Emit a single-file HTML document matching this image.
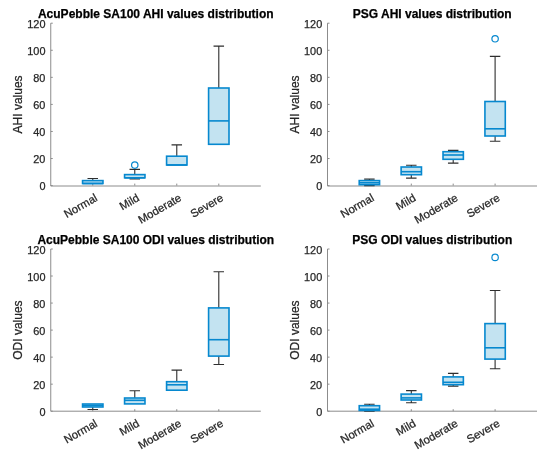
<!DOCTYPE html>
<html><head><meta charset="utf-8"><style>
html,body{margin:0;padding:0;background:#fff;}
svg{display:block;will-change:transform;}
text{font-family:"Liberation Sans",sans-serif;fill:#262626;stroke:#262626;stroke-width:0.25px;}
.tk{font-size:10.9px;}
.ct{font-size:11.3px;}
.yl{font-size:12px;}
.tt{font-size:12px;font-weight:bold;fill:#000;stroke:#000;}
</style></head><body>
<svg width="550" height="454" viewBox="0 0 550 454">
<rect width="550" height="454" fill="#fff"/>
<path d="M50.75 23.2V186H260.8" fill="none" stroke="#8c8c8c" stroke-width="1"/>
<path d="M50.75 185.6h2" stroke="#8c8c8c" stroke-width="1"/>
<text x="45.45" y="186.1" class="tk" text-anchor="end" dominant-baseline="central">0</text>
<path d="M50.75 158.53h2" stroke="#8c8c8c" stroke-width="1"/>
<text x="45.45" y="159.03" class="tk" text-anchor="end" dominant-baseline="central">20</text>
<path d="M50.75 131.47h2" stroke="#8c8c8c" stroke-width="1"/>
<text x="45.45" y="131.97" class="tk" text-anchor="end" dominant-baseline="central">40</text>
<path d="M50.75 104.4h2" stroke="#8c8c8c" stroke-width="1"/>
<text x="45.45" y="104.9" class="tk" text-anchor="end" dominant-baseline="central">60</text>
<path d="M50.75 77.33h2" stroke="#8c8c8c" stroke-width="1"/>
<text x="45.45" y="77.83" class="tk" text-anchor="end" dominant-baseline="central">80</text>
<path d="M50.75 50.27h2" stroke="#8c8c8c" stroke-width="1"/>
<text x="45.45" y="50.77" class="tk" text-anchor="end" dominant-baseline="central">100</text>
<path d="M50.75 23.2h2" stroke="#8c8c8c" stroke-width="1"/>
<text x="45.45" y="23.7" class="tk" text-anchor="end" dominant-baseline="central">120</text>
<path d="M92.76 185.6v-2" stroke="#8c8c8c" stroke-width="1"/>
<text x="96.26" y="196.6" class="ct" text-anchor="end" dominant-baseline="central" transform="rotate(-30 96.26 196.6)">Normal</text>
<path d="M134.77 185.6v-2" stroke="#8c8c8c" stroke-width="1"/>
<text x="138.27" y="196.6" class="ct" text-anchor="end" dominant-baseline="central" transform="rotate(-30 138.27 196.6)">Mild</text>
<path d="M176.78 185.6v-2" stroke="#8c8c8c" stroke-width="1"/>
<text x="180.28" y="196.6" class="ct" text-anchor="end" dominant-baseline="central" transform="rotate(-30 180.28 196.6)">Moderate</text>
<path d="M218.79 185.6v-2" stroke="#8c8c8c" stroke-width="1"/>
<text x="222.29" y="196.6" class="ct" text-anchor="end" dominant-baseline="central" transform="rotate(-30 222.29 196.6)">Severe</text>
<path d="M92.76 180.6V178.5M87.51 178.5H98.01" fill="none" stroke="#2e2e2e" stroke-width="1.1"/>
<rect x="82.56" y="180.6" width="20.41" height="2.9" fill="#c3e3f1" stroke="#0688cf" stroke-width="1.6"/>
<path d="M82.56 183.5H102.96" stroke="#0688cf" stroke-width="1.6"/>
<path d="M134.77 174.6V169.4M129.52 169.4H140.02M134.77 177.8V178.9M129.52 178.9H140.02" fill="none" stroke="#2e2e2e" stroke-width="1.1"/>
<rect x="124.57" y="174.6" width="20.41" height="3.2" fill="#c3e3f1" stroke="#0688cf" stroke-width="1.6"/>
<path d="M124.57 177.8H144.97" stroke="#0688cf" stroke-width="1.6"/>
<circle cx="134.77" cy="165.1" r="3.2" fill="none" stroke="#0688cf" stroke-width="1.2"/>
<path d="M176.78 156.2V144.9M171.53 144.9H182.03" fill="none" stroke="#2e2e2e" stroke-width="1.1"/>
<rect x="166.58" y="156.2" width="20.41" height="8.8" fill="#c3e3f1" stroke="#0688cf" stroke-width="1.6"/>
<path d="M166.58 165H186.98" stroke="#0688cf" stroke-width="1.6"/>
<path d="M218.79 88V46.1M213.54 46.1H224.04" fill="none" stroke="#2e2e2e" stroke-width="1.1"/>
<rect x="208.59" y="88" width="20.41" height="56.3" fill="#c3e3f1" stroke="#0688cf" stroke-width="1.6"/>
<path d="M208.59 120.9H228.99" stroke="#0688cf" stroke-width="1.6"/>
<text x="155.78" y="18.4" class="tt" text-anchor="middle">AcuPebble SA100 AHI values distribution</text>
<text x="21.95" y="104.4" class="yl" text-anchor="middle" transform="rotate(-90 21.95 104.4)">AHI values</text>
<path d="M327.5 23.2V186H537" fill="none" stroke="#8c8c8c" stroke-width="1"/>
<path d="M327.5 185.6h2" stroke="#8c8c8c" stroke-width="1"/>
<text x="322.2" y="186.1" class="tk" text-anchor="end" dominant-baseline="central">0</text>
<path d="M327.5 158.53h2" stroke="#8c8c8c" stroke-width="1"/>
<text x="322.2" y="159.03" class="tk" text-anchor="end" dominant-baseline="central">20</text>
<path d="M327.5 131.47h2" stroke="#8c8c8c" stroke-width="1"/>
<text x="322.2" y="131.97" class="tk" text-anchor="end" dominant-baseline="central">40</text>
<path d="M327.5 104.4h2" stroke="#8c8c8c" stroke-width="1"/>
<text x="322.2" y="104.9" class="tk" text-anchor="end" dominant-baseline="central">60</text>
<path d="M327.5 77.33h2" stroke="#8c8c8c" stroke-width="1"/>
<text x="322.2" y="77.83" class="tk" text-anchor="end" dominant-baseline="central">80</text>
<path d="M327.5 50.27h2" stroke="#8c8c8c" stroke-width="1"/>
<text x="322.2" y="50.77" class="tk" text-anchor="end" dominant-baseline="central">100</text>
<path d="M327.5 23.2h2" stroke="#8c8c8c" stroke-width="1"/>
<text x="322.2" y="23.7" class="tk" text-anchor="end" dominant-baseline="central">120</text>
<path d="M369.4 185.6v-2" stroke="#8c8c8c" stroke-width="1"/>
<text x="372.9" y="196.6" class="ct" text-anchor="end" dominant-baseline="central" transform="rotate(-30 372.9 196.6)">Normal</text>
<path d="M411.3 185.6v-2" stroke="#8c8c8c" stroke-width="1"/>
<text x="414.8" y="196.6" class="ct" text-anchor="end" dominant-baseline="central" transform="rotate(-30 414.8 196.6)">Mild</text>
<path d="M453.2 185.6v-2" stroke="#8c8c8c" stroke-width="1"/>
<text x="456.7" y="196.6" class="ct" text-anchor="end" dominant-baseline="central" transform="rotate(-30 456.7 196.6)">Moderate</text>
<path d="M495.1 185.6v-2" stroke="#8c8c8c" stroke-width="1"/>
<text x="498.6" y="196.6" class="ct" text-anchor="end" dominant-baseline="central" transform="rotate(-30 498.6 196.6)">Severe</text>
<path d="M369.4 180.6V179.1M364.16 179.1H374.64M369.4 184.7V185.6M364.16 185.6H374.64" fill="none" stroke="#2e2e2e" stroke-width="1.1"/>
<rect x="359.22" y="180.6" width="20.35" height="4.1" fill="#c3e3f1" stroke="#0688cf" stroke-width="1.6"/>
<path d="M359.22 182.8H379.57" stroke="#0688cf" stroke-width="1.6"/>
<path d="M411.3 167V165.3M406.06 165.3H416.54M411.3 174.7V178.1M406.06 178.1H416.54" fill="none" stroke="#2e2e2e" stroke-width="1.1"/>
<rect x="401.12" y="167" width="20.35" height="7.7" fill="#c3e3f1" stroke="#0688cf" stroke-width="1.6"/>
<path d="M401.12 171.7H421.48" stroke="#0688cf" stroke-width="1.6"/>
<path d="M453.2 151.7V150.4M447.96 150.4H458.44M453.2 159.3V163.1M447.96 163.1H458.44" fill="none" stroke="#2e2e2e" stroke-width="1.1"/>
<rect x="443.02" y="151.7" width="20.35" height="7.6" fill="#c3e3f1" stroke="#0688cf" stroke-width="1.6"/>
<path d="M443.02 155H463.38" stroke="#0688cf" stroke-width="1.6"/>
<path d="M495.1 101.5V56.4M489.86 56.4H500.34M495.1 136V141.3M489.86 141.3H500.34" fill="none" stroke="#2e2e2e" stroke-width="1.1"/>
<rect x="484.93" y="101.5" width="20.35" height="34.5" fill="#c3e3f1" stroke="#0688cf" stroke-width="1.6"/>
<path d="M484.93 128.8H505.28" stroke="#0688cf" stroke-width="1.6"/>
<circle cx="495.1" cy="38.8" r="3.2" fill="none" stroke="#0688cf" stroke-width="1.2"/>
<text x="432.25" y="18.4" class="tt" text-anchor="middle">PSG AHI values distribution</text>
<text x="298.7" y="104.4" class="yl" text-anchor="middle" transform="rotate(-90 298.7 104.4)">AHI values</text>
<path d="M50.75 249V411.2H260.8" fill="none" stroke="#8c8c8c" stroke-width="1"/>
<path d="M50.75 411.2h2" stroke="#8c8c8c" stroke-width="1"/>
<text x="45.45" y="411.7" class="tk" text-anchor="end" dominant-baseline="central">0</text>
<path d="M50.75 384.17h2" stroke="#8c8c8c" stroke-width="1"/>
<text x="45.45" y="384.67" class="tk" text-anchor="end" dominant-baseline="central">20</text>
<path d="M50.75 357.13h2" stroke="#8c8c8c" stroke-width="1"/>
<text x="45.45" y="357.63" class="tk" text-anchor="end" dominant-baseline="central">40</text>
<path d="M50.75 330.1h2" stroke="#8c8c8c" stroke-width="1"/>
<text x="45.45" y="330.6" class="tk" text-anchor="end" dominant-baseline="central">60</text>
<path d="M50.75 303.07h2" stroke="#8c8c8c" stroke-width="1"/>
<text x="45.45" y="303.57" class="tk" text-anchor="end" dominant-baseline="central">80</text>
<path d="M50.75 276.03h2" stroke="#8c8c8c" stroke-width="1"/>
<text x="45.45" y="276.53" class="tk" text-anchor="end" dominant-baseline="central">100</text>
<path d="M50.75 249h2" stroke="#8c8c8c" stroke-width="1"/>
<text x="45.45" y="249.5" class="tk" text-anchor="end" dominant-baseline="central">120</text>
<path d="M92.76 411.2v-2" stroke="#8c8c8c" stroke-width="1"/>
<text x="96.26" y="422.2" class="ct" text-anchor="end" dominant-baseline="central" transform="rotate(-30 96.26 422.2)">Normal</text>
<path d="M134.77 411.2v-2" stroke="#8c8c8c" stroke-width="1"/>
<text x="138.27" y="422.2" class="ct" text-anchor="end" dominant-baseline="central" transform="rotate(-30 138.27 422.2)">Mild</text>
<path d="M176.78 411.2v-2" stroke="#8c8c8c" stroke-width="1"/>
<text x="180.28" y="422.2" class="ct" text-anchor="end" dominant-baseline="central" transform="rotate(-30 180.28 422.2)">Moderate</text>
<path d="M218.79 411.2v-2" stroke="#8c8c8c" stroke-width="1"/>
<text x="222.29" y="422.2" class="ct" text-anchor="end" dominant-baseline="central" transform="rotate(-30 222.29 422.2)">Severe</text>
<path d="M92.76 407V409.5M87.51 409.5H98.01" fill="none" stroke="#2e2e2e" stroke-width="1.1"/>
<rect x="82.56" y="404" width="20.41" height="3" fill="#c3e3f1" stroke="#0688cf" stroke-width="1.6"/>
<path d="M82.56 405.5H102.96" stroke="#0688cf" stroke-width="1.6"/>
<path d="M134.77 398V390.7M129.52 390.7H140.02" fill="none" stroke="#2e2e2e" stroke-width="1.1"/>
<rect x="124.57" y="398" width="20.41" height="5.9" fill="#c3e3f1" stroke="#0688cf" stroke-width="1.6"/>
<path d="M124.57 400.3H144.97" stroke="#0688cf" stroke-width="1.6"/>
<path d="M176.78 381.7V370.1M171.53 370.1H182.03" fill="none" stroke="#2e2e2e" stroke-width="1.1"/>
<rect x="166.58" y="381.7" width="20.41" height="8.5" fill="#c3e3f1" stroke="#0688cf" stroke-width="1.6"/>
<path d="M166.58 384.8H186.98" stroke="#0688cf" stroke-width="1.6"/>
<path d="M218.79 307.9V271.7M213.54 271.7H224.04M218.79 356.1V364.5M213.54 364.5H224.04" fill="none" stroke="#2e2e2e" stroke-width="1.1"/>
<rect x="208.59" y="307.9" width="20.41" height="48.2" fill="#c3e3f1" stroke="#0688cf" stroke-width="1.6"/>
<path d="M208.59 339.7H228.99" stroke="#0688cf" stroke-width="1.6"/>
<text x="155.78" y="244.2" class="tt" text-anchor="middle">AcuPebble SA100 ODI values distribution</text>
<text x="21.95" y="330.1" class="yl" text-anchor="middle" transform="rotate(-90 21.95 330.1)">ODI values</text>
<path d="M327.5 249V411.2H537" fill="none" stroke="#8c8c8c" stroke-width="1"/>
<path d="M327.5 411.2h2" stroke="#8c8c8c" stroke-width="1"/>
<text x="322.2" y="411.7" class="tk" text-anchor="end" dominant-baseline="central">0</text>
<path d="M327.5 384.17h2" stroke="#8c8c8c" stroke-width="1"/>
<text x="322.2" y="384.67" class="tk" text-anchor="end" dominant-baseline="central">20</text>
<path d="M327.5 357.13h2" stroke="#8c8c8c" stroke-width="1"/>
<text x="322.2" y="357.63" class="tk" text-anchor="end" dominant-baseline="central">40</text>
<path d="M327.5 330.1h2" stroke="#8c8c8c" stroke-width="1"/>
<text x="322.2" y="330.6" class="tk" text-anchor="end" dominant-baseline="central">60</text>
<path d="M327.5 303.07h2" stroke="#8c8c8c" stroke-width="1"/>
<text x="322.2" y="303.57" class="tk" text-anchor="end" dominant-baseline="central">80</text>
<path d="M327.5 276.03h2" stroke="#8c8c8c" stroke-width="1"/>
<text x="322.2" y="276.53" class="tk" text-anchor="end" dominant-baseline="central">100</text>
<path d="M327.5 249h2" stroke="#8c8c8c" stroke-width="1"/>
<text x="322.2" y="249.5" class="tk" text-anchor="end" dominant-baseline="central">120</text>
<path d="M369.4 411.2v-2" stroke="#8c8c8c" stroke-width="1"/>
<text x="372.9" y="422.2" class="ct" text-anchor="end" dominant-baseline="central" transform="rotate(-30 372.9 422.2)">Normal</text>
<path d="M411.3 411.2v-2" stroke="#8c8c8c" stroke-width="1"/>
<text x="414.8" y="422.2" class="ct" text-anchor="end" dominant-baseline="central" transform="rotate(-30 414.8 422.2)">Mild</text>
<path d="M453.2 411.2v-2" stroke="#8c8c8c" stroke-width="1"/>
<text x="456.7" y="422.2" class="ct" text-anchor="end" dominant-baseline="central" transform="rotate(-30 456.7 422.2)">Moderate</text>
<path d="M495.1 411.2v-2" stroke="#8c8c8c" stroke-width="1"/>
<text x="498.6" y="422.2" class="ct" text-anchor="end" dominant-baseline="central" transform="rotate(-30 498.6 422.2)">Severe</text>
<path d="M369.4 405.7V404.3M364.16 404.3H374.64M369.4 410.4V411.2M364.16 411.2H374.64" fill="none" stroke="#2e2e2e" stroke-width="1.1"/>
<rect x="359.22" y="405.7" width="20.35" height="4.7" fill="#c3e3f1" stroke="#0688cf" stroke-width="1.6"/>
<path d="M359.22 409.2H379.57" stroke="#0688cf" stroke-width="1.6"/>
<path d="M411.3 394.1V390.6M406.06 390.6H416.54M411.3 400V402.8M406.06 402.8H416.54" fill="none" stroke="#2e2e2e" stroke-width="1.1"/>
<rect x="401.12" y="394.1" width="20.35" height="5.9" fill="#c3e3f1" stroke="#0688cf" stroke-width="1.6"/>
<path d="M401.12 397.9H421.48" stroke="#0688cf" stroke-width="1.6"/>
<path d="M453.2 376.9V373.4M447.96 373.4H458.44M453.2 384.7V386.1M447.96 386.1H458.44" fill="none" stroke="#2e2e2e" stroke-width="1.1"/>
<rect x="443.02" y="376.9" width="20.35" height="7.8" fill="#c3e3f1" stroke="#0688cf" stroke-width="1.6"/>
<path d="M443.02 382.3H463.38" stroke="#0688cf" stroke-width="1.6"/>
<path d="M495.1 323.6V290.5M489.86 290.5H500.34M495.1 359.1V368.8M489.86 368.8H500.34" fill="none" stroke="#2e2e2e" stroke-width="1.1"/>
<rect x="484.93" y="323.6" width="20.35" height="35.5" fill="#c3e3f1" stroke="#0688cf" stroke-width="1.6"/>
<path d="M484.93 347.8H505.28" stroke="#0688cf" stroke-width="1.6"/>
<circle cx="495.1" cy="257.4" r="3.2" fill="none" stroke="#0688cf" stroke-width="1.2"/>
<text x="432.25" y="244.2" class="tt" text-anchor="middle">PSG ODI values distribution</text>
<text x="298.7" y="330.1" class="yl" text-anchor="middle" transform="rotate(-90 298.7 330.1)">ODI values</text>
</svg>
</body></html>
